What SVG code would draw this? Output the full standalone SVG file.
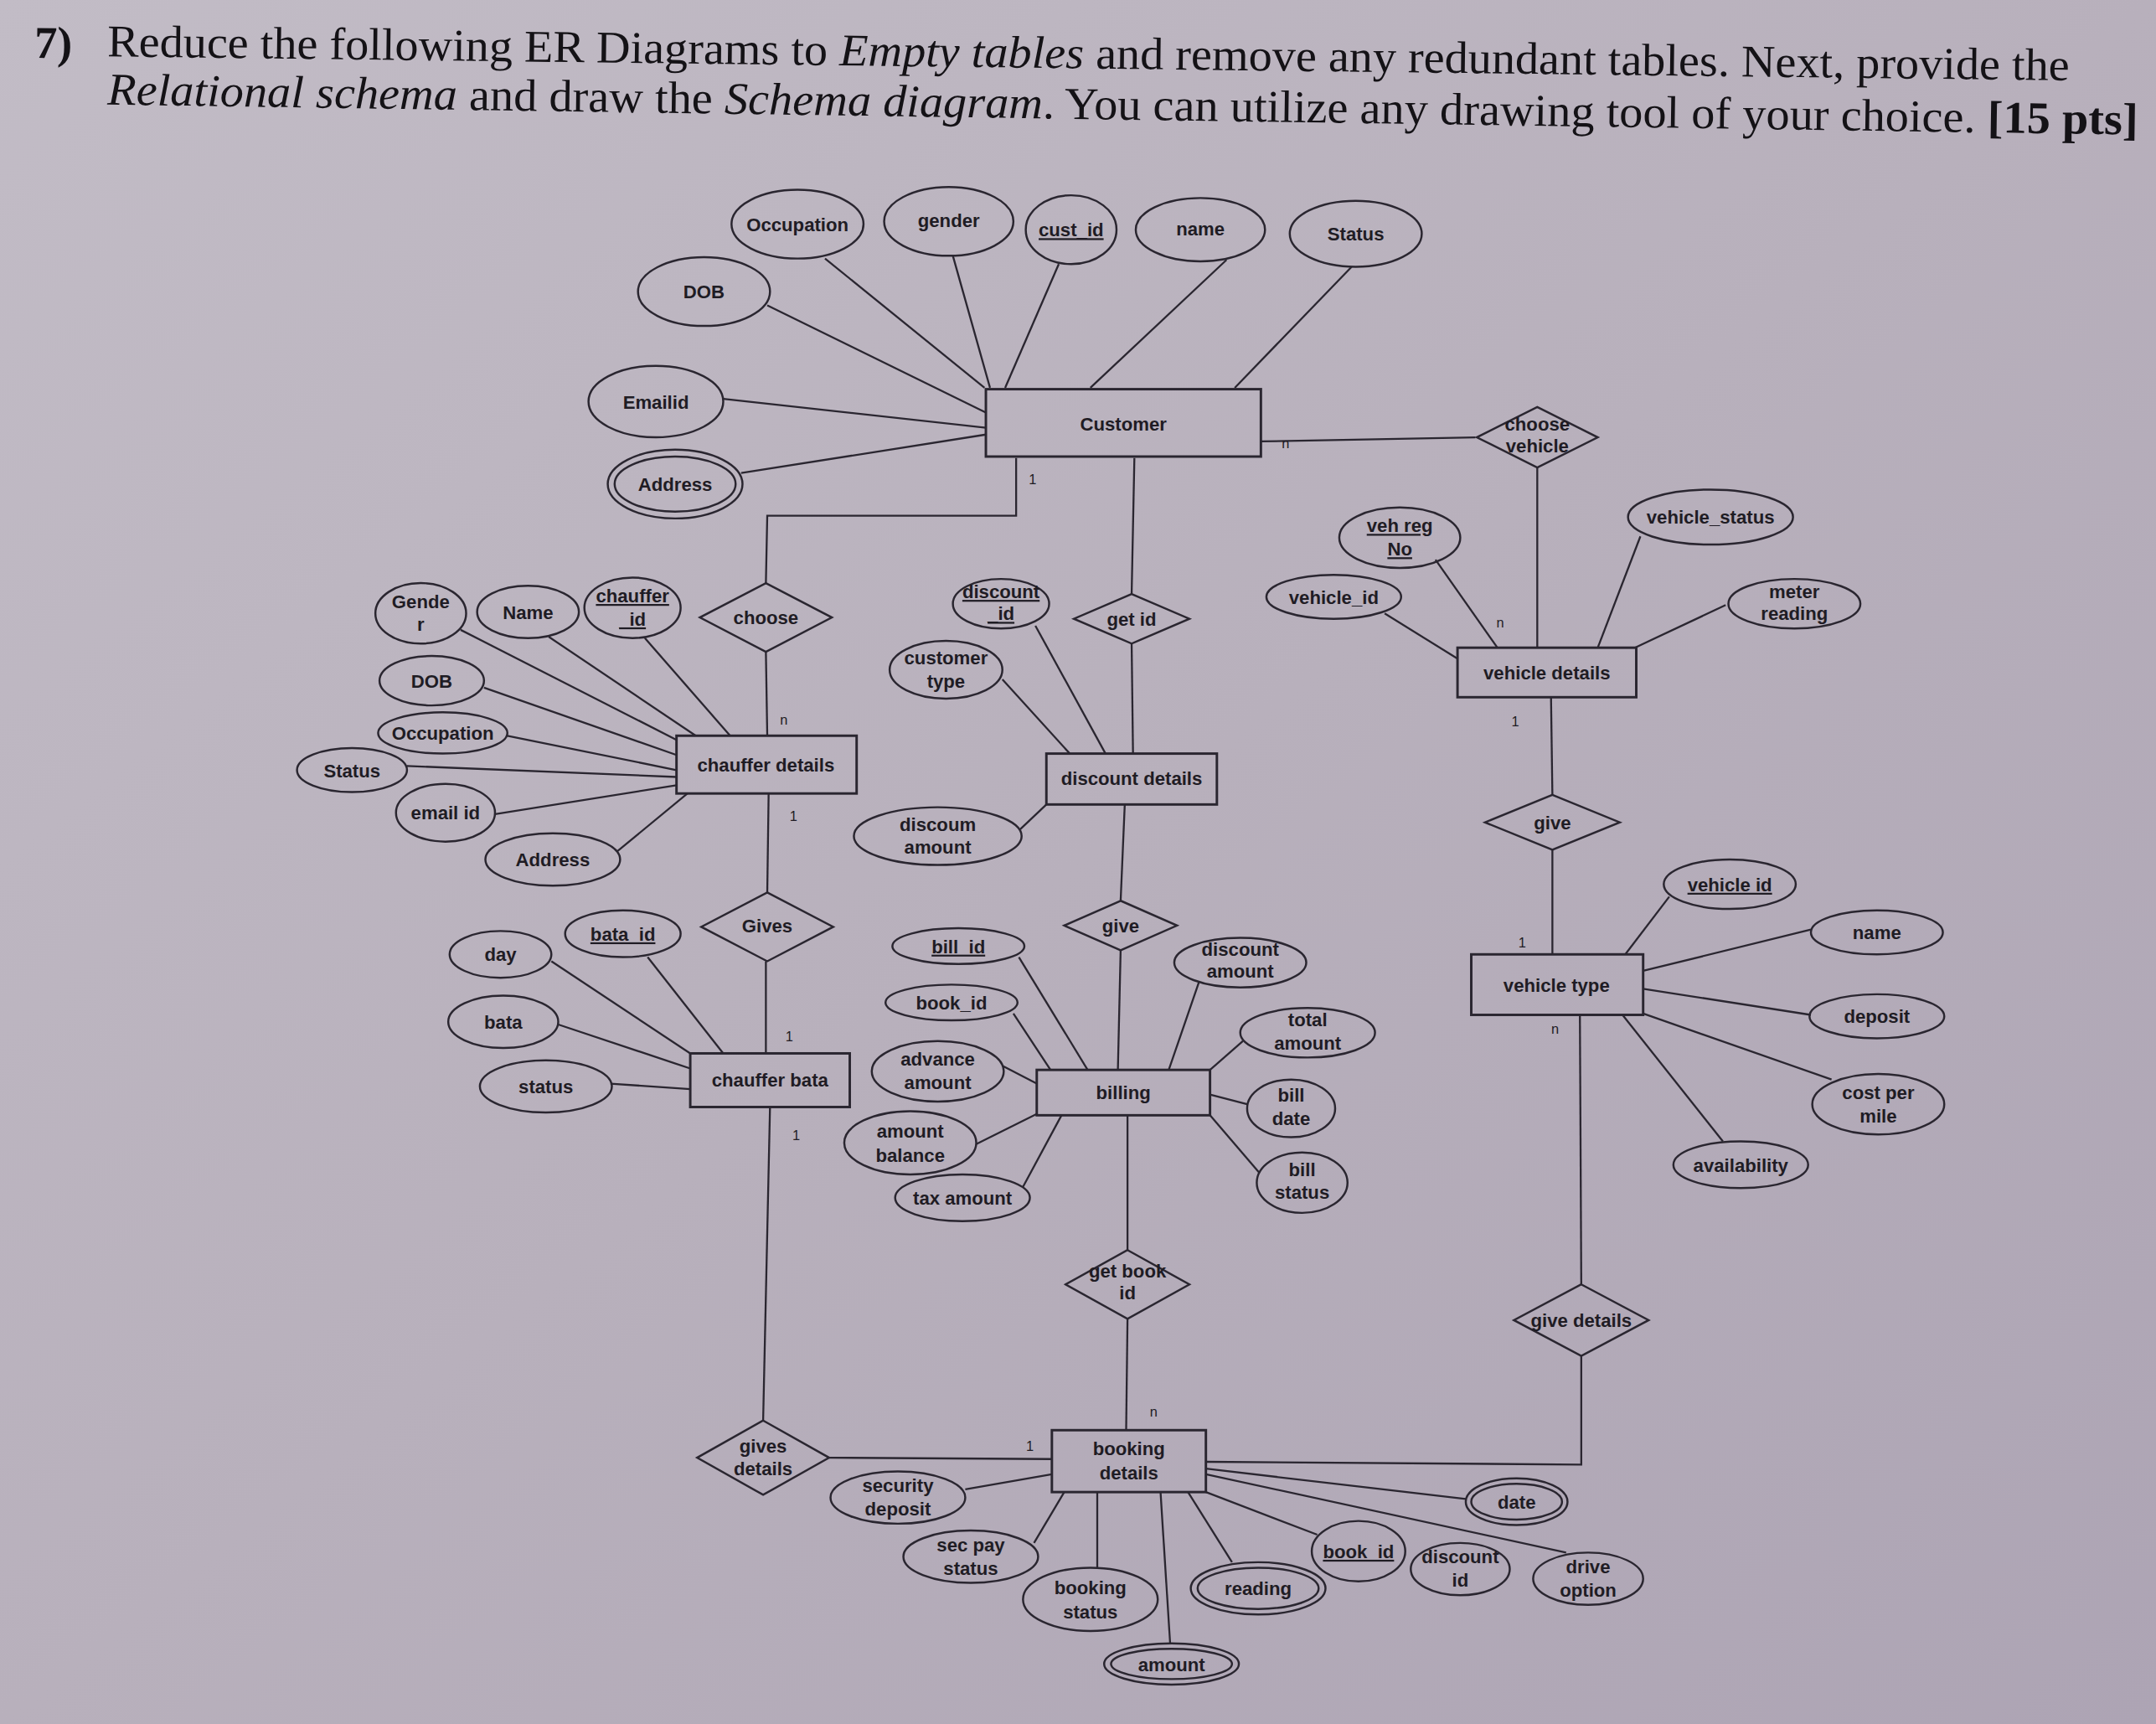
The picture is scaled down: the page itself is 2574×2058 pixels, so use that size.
<svg xmlns="http://www.w3.org/2000/svg" width="2574" height="2058" viewBox="0 0 2574 2058">
<defs>
<linearGradient id="bg" x1="0" y1="0" x2="1" y2="1">
<stop offset="0" stop-color="#c2bcc6"/>
<stop offset="0.5" stop-color="#b8b0bc"/>
<stop offset="1" stop-color="#ada4b4"/>
</linearGradient>
<style>
.ln{stroke:#2a2630;stroke-width:1.4;fill:none}
.ent{fill:none;stroke:#2a2630;stroke-width:1.8}
.att{fill:none;stroke:#2a2630;stroke-width:1.5}
.rel{fill:none;stroke:#2a2630;stroke-width:1.5}
.t{font-family:"Liberation Sans",Arial,sans-serif;font-weight:bold;font-size:13.5px;fill:#1f1c24;text-anchor:middle}
.u{text-decoration:underline}
.c{font-family:"Liberation Sans",Arial,sans-serif;font-size:10px;fill:#1f1c24;text-anchor:middle}
.ti{font-family:"Liberation Serif","Times New Roman",serif;font-size:33px;fill:#141216}
</style>
</defs>
<rect width="2574" height="2058" fill="url(#bg)"/>
<g transform="scale(1.6416)">
<g id="title">
<text class="ti" x="25" y="42" font-weight="bold" transform="rotate(0.7 25 42)">7)</text>
<text class="ti" x="78" y="41" textLength="1427" lengthAdjust="spacingAndGlyphs" transform="rotate(0.7 78 41)">Reduce the following ER Diagrams to <tspan font-style="italic">Empty tables</tspan> and remove any redundant tables. Next, provide the</text>
<text class="ti" x="78" y="76" textLength="1477" lengthAdjust="spacingAndGlyphs" transform="rotate(0.85 78 76)"><tspan font-style="italic">Relational schema</tspan> and draw the <tspan font-style="italic">Schema diagram</tspan>. You can utilize any drawing tool of your choice. <tspan font-weight="bold">[15 pts]</tspan></text>
</g>
<g id="connectors">
<line class="ln" x1="600" y1="188" x2="716" y2="282"/>
<line class="ln" x1="693" y1="186" x2="720" y2="282"/>
<line class="ln" x1="770" y1="192" x2="731" y2="282"/>
<line class="ln" x1="892" y1="189" x2="793" y2="282"/>
<line class="ln" x1="983" y1="194" x2="898" y2="282"/>
<line class="ln" x1="558" y1="222" x2="717" y2="300"/>
<line class="ln" x1="526" y1="290" x2="717" y2="311"/>
<line class="ln" x1="539" y1="344" x2="717" y2="316"/>
<polyline class="ln" points="739,333 739,375 558,375 557,424"/>
<line class="ln" x1="825" y1="333" x2="823" y2="432"/>
<line class="ln" x1="917" y1="321" x2="1073" y2="318"/>
<line class="ln" x1="557" y1="474" x2="558" y2="535"/>
<line class="ln" x1="335" y1="458" x2="492" y2="538"/>
<line class="ln" x1="399" y1="463" x2="506" y2="535"/>
<line class="ln" x1="469" y1="464" x2="531" y2="535"/>
<line class="ln" x1="352" y1="500" x2="492" y2="549"/>
<line class="ln" x1="369" y1="535" x2="492" y2="560"/>
<line class="ln" x1="296" y1="557" x2="492" y2="565"/>
<line class="ln" x1="360" y1="592" x2="492" y2="571"/>
<line class="ln" x1="449" y1="619" x2="500" y2="577"/>
<line class="ln" x1="559" y1="577" x2="558" y2="649"/>
<line class="ln" x1="557" y1="699" x2="557" y2="766"/>
<line class="ln" x1="401" y1="699" x2="502" y2="766"/>
<line class="ln" x1="471" y1="696" x2="526" y2="766"/>
<line class="ln" x1="406" y1="745" x2="502" y2="777"/>
<line class="ln" x1="444" y1="788" x2="502" y2="792"/>
<line class="ln" x1="560" y1="805" x2="555" y2="1033"/>
<line class="ln" x1="603" y1="1060" x2="765" y2="1061"/>
<line class="ln" x1="823" y1="468" x2="824" y2="548"/>
<line class="ln" x1="753" y1="455" x2="804" y2="548"/>
<line class="ln" x1="729" y1="494" x2="778" y2="548"/>
<line class="ln" x1="742" y1="603" x2="761" y2="585"/>
<line class="ln" x1="818" y1="585" x2="815" y2="655"/>
<line class="ln" x1="815" y1="691" x2="813" y2="778"/>
<line class="ln" x1="741" y1="696" x2="791" y2="778"/>
<line class="ln" x1="737" y1="737" x2="764" y2="778"/>
<line class="ln" x1="729" y1="775" x2="754" y2="788"/>
<line class="ln" x1="710" y1="832" x2="754" y2="810"/>
<line class="ln" x1="744" y1="863" x2="772" y2="811"/>
<line class="ln" x1="872" y1="714" x2="850" y2="778"/>
<line class="ln" x1="904" y1="757" x2="880" y2="778"/>
<line class="ln" x1="907" y1="803" x2="880" y2="796"/>
<line class="ln" x1="916" y1="853" x2="880" y2="811"/>
<line class="ln" x1="820" y1="811" x2="820" y2="909"/>
<line class="ln" x1="820" y1="959" x2="819" y2="1040"/>
<line class="ln" x1="702" y1="1083" x2="765" y2="1072"/>
<line class="ln" x1="752" y1="1122" x2="774" y2="1085"/>
<line class="ln" x1="798" y1="1085" x2="798" y2="1140"/>
<line class="ln" x1="844" y1="1085" x2="851" y2="1195"/>
<line class="ln" x1="864" y1="1085" x2="896" y2="1136"/>
<line class="ln" x1="877" y1="1085" x2="958" y2="1116"/>
<line class="ln" x1="877" y1="1068" x2="1066" y2="1090"/>
<line class="ln" x1="877" y1="1072" x2="1139" y2="1129"/>
<polyline class="ln" points="877,1063 1150,1065 1150,986"/>
<line class="ln" x1="1150" y1="934" x2="1149" y2="738"/>
<line class="ln" x1="1129" y1="618" x2="1129" y2="694"/>
<line class="ln" x1="1214" y1="652" x2="1182" y2="694"/>
<line class="ln" x1="1317" y1="676" x2="1195" y2="706"/>
<line class="ln" x1="1317" y1="738" x2="1195" y2="719"/>
<line class="ln" x1="1332" y1="785" x2="1195" y2="737"/>
<line class="ln" x1="1253" y1="830" x2="1180" y2="738"/>
<line class="ln" x1="1128" y1="507" x2="1129" y2="578"/>
<line class="ln" x1="1118" y1="340" x2="1118" y2="471"/>
<line class="ln" x1="1044" y1="407" x2="1089" y2="471"/>
<line class="ln" x1="1007" y1="446" x2="1060" y2="479"/>
<line class="ln" x1="1193" y1="390" x2="1162" y2="471"/>
<line class="ln" x1="1255" y1="440" x2="1189" y2="471"/>
<text class="c" x="935" y="326">n</text>
<text class="c" x="751" y="352">1</text>
<text class="c" x="570" y="527">n</text>
<text class="c" x="577" y="597">1</text>
<text class="c" x="574" y="757">1</text>
<text class="c" x="579" y="829">1</text>
<text class="c" x="749" y="1055">1</text>
<text class="c" x="839" y="1030">n</text>
<text class="c" x="1091" y="456">n</text>
<text class="c" x="1102" y="528">1</text>
<text class="c" x="1107" y="689">1</text>
<text class="c" x="1131" y="752">n</text>
</g>
<g id="customer"><rect class="ent" x="717" y="283" width="200" height="49"/><text class="t" x="817" y="313">Customer</text></g>
<g id="chauffer_details"><rect class="ent" x="492" y="535" width="131" height="42"/><text class="t" x="557" y="561">chauffer details</text></g>
<g id="chauffer_bata"><rect class="ent" x="502" y="766" width="116" height="39"/><text class="t" x="560" y="790">chauffer bata</text></g>
<g id="discount_details"><rect class="ent" x="761" y="548" width="124" height="37"/><text class="t" x="823" y="571">discount details</text></g>
<g id="billing"><rect class="ent" x="754" y="778" width="126" height="33"/><text class="t" x="817" y="799">billing</text></g>
<g id="booking_details"><rect class="ent" x="765" y="1040" width="112" height="45"/><text class="t" x="821" y="1058">booking<tspan x="821" dy="18">details</tspan></text></g>
<g id="vehicle_details"><rect class="ent" x="1060" y="471" width="130" height="36"/><text class="t" x="1125" y="494">vehicle details</text></g>
<g id="vehicle_type"><rect class="ent" x="1070" y="694" width="125" height="44"/><text class="t" x="1132" y="721">vehicle type</text></g>

<g id="choose"><polygon class="rel" points="557,424 605,449 557,474 509,449"/><text class="t" x="557" y="454">choose</text></g>
<g id="choose_vehicle"><polygon class="rel" points="1118,296 1162,318 1118,340 1074,318"/><text class="t" x="1118" y="313">choose<tspan x="1118" dy="16">vehicle</tspan></text></g>
<g id="get_id"><polygon class="rel" points="823,432 865,450 823,468 781,450"/><text class="t" x="823" y="455">get id</text></g>
<g id="gives"><polygon class="rel" points="558,649 606,674 558,699 510,674"/><text class="t" x="558" y="678">Gives</text></g>
<g id="give_billing"><polygon class="rel" points="815,655 856,673 815,691 774,673"/><text class="t" x="815" y="678">give</text></g>
<g id="get_book_id"><polygon class="rel" points="820,909 865,934 820,959 775,934"/><text class="t" x="820" y="929">get book<tspan x="820" dy="16">id</tspan></text></g>
<g id="gives_details"><polygon class="rel" points="555,1033 603,1060 555,1087 507,1060"/><text class="t" x="555" y="1056">gives<tspan x="555" dy="17">details</tspan></text></g>
<g id="give_vehicle"><polygon class="rel" points="1129,578 1178,598 1129,618 1080,598"/><text class="t" x="1129" y="603">give</text></g>
<g id="give_details"><polygon class="rel" points="1150,934 1199,960 1150,986 1101,960"/><text class="t" x="1150" y="965">give details</text></g>

<g id="occupation_c"><ellipse class="att" cx="580" cy="163" rx="48" ry="25"/><text class="t" x="580" y="168">Occupation</text></g>
<g id="gender_c"><ellipse class="att" cx="690" cy="161" rx="47" ry="25"/><text class="t" x="690" y="165">gender</text></g>
<g id="cust_id"><ellipse class="att" cx="779" cy="167" rx="33" ry="25"/><text class="t u" x="779" y="172">cust_id</text></g>
<g id="name_c"><ellipse class="att" cx="873" cy="167" rx="47" ry="23"/><text class="t" x="873" y="171">name</text></g>
<g id="status_c"><ellipse class="att" cx="986" cy="170" rx="48" ry="24"/><text class="t" x="986" y="175">Status</text></g>
<g id="dob_c"><ellipse class="att" cx="512" cy="212" rx="48" ry="25"/><text class="t" x="512" y="217">DOB</text></g>
<g id="emailid_c"><ellipse class="att" cx="477" cy="292" rx="49" ry="26"/><text class="t" x="477" y="297">Emailid</text></g>
<g id="address_c"><ellipse class="att" cx="491" cy="352" rx="49" ry="25"/><ellipse class="att" cx="491" cy="352" rx="44" ry="20"/><text class="t" x="491" y="357">Address</text></g>

<g id="gender_ch"><ellipse class="att" cx="306" cy="446" rx="33" ry="22"/><text class="t" x="306" y="442">Gende<tspan x="306" dy="17">r</tspan></text></g>
<g id="name_ch"><ellipse class="att" cx="384" cy="445" rx="37" ry="19"/><text class="t" x="384" y="450">Name</text></g>
<g id="chauffer_id"><ellipse class="att" cx="460" cy="442" rx="35" ry="22"/><text class="t u" x="460" y="438">chauffer<tspan x="460" dy="17">_id</tspan></text></g>
<g id="dob_ch"><ellipse class="att" cx="314" cy="495" rx="38" ry="18"/><text class="t" x="314" y="500">DOB</text></g>
<g id="occupation_ch"><ellipse class="att" cx="322" cy="533" rx="47" ry="15"/><text class="t" x="322" y="538">Occupation</text></g>
<g id="status_ch"><ellipse class="att" cx="256" cy="560" rx="40" ry="16"/><text class="t" x="256" y="565">Status</text></g>
<g id="email_ch"><ellipse class="att" cx="324" cy="591" rx="36" ry="21"/><text class="t" x="324" y="596">email id</text></g>
<g id="address_ch"><ellipse class="att" cx="402" cy="625" rx="49" ry="19"/><text class="t" x="402" y="630">Address</text></g>

<g id="bata_id"><ellipse class="att" cx="453" cy="679" rx="42" ry="17"/><text class="t u" x="453" y="684">bata_id</text></g>
<g id="day"><ellipse class="att" cx="364" cy="694" rx="37" ry="17"/><text class="t" x="364" y="699">day</text></g>
<g id="bata"><ellipse class="att" cx="366" cy="743" rx="40" ry="19"/><text class="t" x="366" y="748">bata</text></g>
<g id="status_cb"><ellipse class="att" cx="397" cy="790" rx="48" ry="19"/><text class="t" x="397" y="795">status</text></g>

<g id="discount_id"><ellipse class="att" cx="728" cy="439" rx="35" ry="18"/><text class="t u" x="728" y="435">discount<tspan x="728" dy="16">_id</tspan></text></g>
<g id="customer_type"><ellipse class="att" cx="688" cy="487" rx="41" ry="21"/><text class="t" x="688" y="483">customer<tspan x="688" dy="17">type</tspan></text></g>
<g id="discoum_amount"><ellipse class="att" cx="682" cy="608" rx="61" ry="21"/><text class="t" x="682" y="604">discoum<tspan x="682" dy="17">amount</tspan></text></g>

<g id="bill_id"><ellipse class="att" cx="697" cy="688" rx="48" ry="13"/><text class="t u" x="697" y="693">bill_id</text></g>
<g id="book_id_b"><ellipse class="att" cx="692" cy="729" rx="48" ry="13"/><text class="t" x="692" y="734">book_id</text></g>
<g id="advance_amount"><ellipse class="att" cx="682" cy="779" rx="48" ry="22"/><text class="t" x="682" y="775">advance<tspan x="682" dy="17">amount</tspan></text></g>
<g id="amount_balance"><ellipse class="att" cx="662" cy="831" rx="48" ry="23"/><text class="t" x="662" y="827">amount<tspan x="662" dy="18">balance</tspan></text></g>
<g id="tax_amount"><ellipse class="att" cx="700" cy="871" rx="49" ry="17"/><text class="t" x="700" y="876">tax amount</text></g>
<g id="discount_amount_b"><ellipse class="att" cx="902" cy="700" rx="48" ry="18"/><text class="t" x="902" y="695">discount<tspan x="902" dy="16">amount</tspan></text></g>
<g id="total_amount"><ellipse class="att" cx="951" cy="751" rx="49" ry="18"/><text class="t" x="951" y="746">total<tspan x="951" dy="17">amount</tspan></text></g>
<g id="bill_date"><ellipse class="att" cx="939" cy="806" rx="32" ry="21"/><text class="t" x="939" y="801">bill<tspan x="939" dy="17">date</tspan></text></g>
<g id="bill_status"><ellipse class="att" cx="947" cy="860" rx="33" ry="22"/><text class="t" x="947" y="855">bill<tspan x="947" dy="17">status</tspan></text></g>

<g id="security_deposit"><ellipse class="att" cx="653" cy="1089" rx="49" ry="19"/><text class="t" x="653" y="1085">security<tspan x="653" dy="17">deposit</tspan></text></g>
<g id="sec_pay_status"><ellipse class="att" cx="706" cy="1132" rx="49" ry="19"/><text class="t" x="706" y="1128">sec pay<tspan x="706" dy="17">status</tspan></text></g>
<g id="booking_status"><ellipse class="att" cx="793" cy="1163" rx="49" ry="23"/><text class="t" x="793" y="1159">booking<tspan x="793" dy="18">status</tspan></text></g>
<g id="amount_bk"><ellipse class="att" cx="852" cy="1210" rx="49" ry="15"/><ellipse class="att" cx="852" cy="1210" rx="44" ry="11"/><text class="t" x="852" y="1215">amount</text></g>
<g id="reading"><ellipse class="att" cx="915" cy="1155" rx="49" ry="19"/><ellipse class="att" cx="915" cy="1155" rx="44" ry="15"/><text class="t" x="915" y="1160">reading</text></g>
<g id="book_id_bk"><ellipse class="att" cx="988" cy="1128" rx="34" ry="22"/><text class="t u" x="988" y="1133">book_id</text></g>
<g id="discount_id_bk"><ellipse class="att" cx="1062" cy="1141" rx="36" ry="19"/><text class="t" x="1062" y="1137">discount<tspan x="1062" dy="17">id</tspan></text></g>
<g id="date"><ellipse class="att" cx="1103" cy="1092" rx="37" ry="17"/><ellipse class="att" cx="1103" cy="1092" rx="33" ry="13"/><text class="t" x="1103" y="1097">date</text></g>
<g id="drive_option"><ellipse class="att" cx="1155" cy="1148" rx="40" ry="19"/><text class="t" x="1155" y="1144">drive<tspan x="1155" dy="17">option</tspan></text></g>

<g id="veh_reg_no"><ellipse class="att" cx="1018" cy="391" rx="44" ry="22"/><text class="t u" x="1018" y="387">veh reg<tspan x="1018" dy="17">No</tspan></text></g>
<g id="vehicle_id_vd"><ellipse class="att" cx="970" cy="434" rx="49" ry="16"/><text class="t" x="970" y="439">vehicle_id</text></g>
<g id="vehicle_status"><ellipse class="att" cx="1244" cy="376" rx="60" ry="20"/><text class="t" x="1244" y="381">vehicle_status</text></g>
<g id="meter_reading"><ellipse class="att" cx="1305" cy="439" rx="48" ry="18"/><text class="t" x="1305" y="435">meter<tspan x="1305" dy="16">reading</tspan></text></g>

<g id="vehicle_id_vt"><ellipse class="att" cx="1258" cy="643" rx="48" ry="18"/><text class="t u" x="1258" y="648">vehicle id</text></g>
<g id="name_vt"><ellipse class="att" cx="1365" cy="678" rx="48" ry="16"/><text class="t" x="1365" y="683">name</text></g>
<g id="deposit"><ellipse class="att" cx="1365" cy="739" rx="49" ry="16"/><text class="t" x="1365" y="744">deposit</text></g>
<g id="cost_per_mile"><ellipse class="att" cx="1366" cy="803" rx="48" ry="22"/><text class="t" x="1366" y="799">cost per<tspan x="1366" dy="17">mile</tspan></text></g>
<g id="availability"><ellipse class="att" cx="1266" cy="847" rx="49" ry="17"/><text class="t" x="1266" y="852">availability</text></g>
</g>
</svg>
